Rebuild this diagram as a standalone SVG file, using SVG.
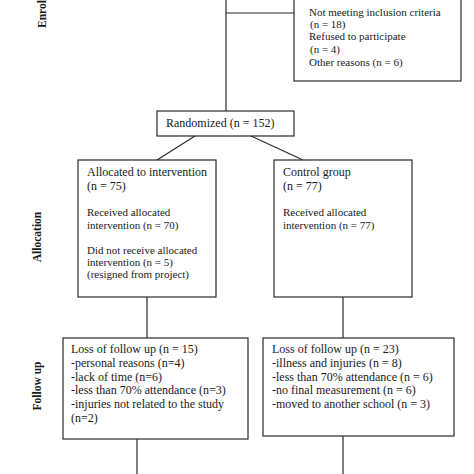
<svg xmlns="http://www.w3.org/2000/svg" width="474" height="474" viewBox="0 0 474 474">
<style>
.box{fill:#fff;stroke:#2a2a2a;stroke-width:1.2}
.ln{stroke:#2a2a2a;stroke-width:1.2;fill:none}
text{font-family:"Liberation Serif","Times New Roman",serif;fill:#1a1a1a}
.t12{font-size:12px}
.t11{font-size:11px}
.lab{font-size:11.5px;font-weight:bold}
</style>
<rect width="474" height="474" fill="#fff"/>
<g id="connectors">
<line class="ln" x1="226" y1="-2" x2="226" y2="111"/>
<line class="ln" x1="226" y1="13" x2="294" y2="13"/>
<line class="ln" x1="195" y1="136" x2="157" y2="160"/>
<line class="ln" x1="251" y1="136" x2="303" y2="160"/>
<line class="ln" x1="147" y1="297" x2="147" y2="338"/>
<line class="ln" x1="343" y1="297" x2="343" y2="338"/>
<line class="ln" x1="137" y1="439" x2="137" y2="476"/>
<line class="ln" x1="343" y1="436" x2="343" y2="476"/>
</g>
<g id="label-enrolment"><text class="lab" x="46" y="28" transform="rotate(-90 46 28)">Enrolment</text></g>
<g id="label-allocation"><text class="lab" x="41" y="237" text-anchor="middle" transform="rotate(-90 41 237)">Allocation</text></g>
<g id="label-followup"><text class="lab" x="41" y="386" text-anchor="middle" transform="rotate(-90 41 386)">Follow up</text></g>
<g id="excluded">
<rect class="box" x="294" y="-10" width="167" height="91"/>
<text class="t11" x="309" y="16">Not meeting inclusion criteria</text>
<text class="t11" x="310" y="28">(n = 18)</text>
<text class="t11" x="309" y="40">Refused to participate</text>
<text class="t11" x="310" y="53">(n = 4)</text>
<text class="t11" x="309" y="66">Other reasons (n = 6)</text>
</g>
<g id="randomized">
<rect class="box" x="157" y="111" width="137" height="25"/>
<text class="t12" x="166" y="127">Randomized (n = 152)</text>
</g>
<g id="intervention">
<rect class="box" x="78" y="160" width="138" height="137"/>
<text class="t12" x="87" y="176">Allocated to intervention</text>
<text class="t12" x="87" y="190">(n = 75)</text>
<text class="t11" x="87" y="216">Received allocated</text>
<text class="t11" x="87" y="229">intervention (n = 70)</text>
<text class="t11" x="87" y="254">Did not receive allocated</text>
<text class="t11" x="87" y="266">intervention (n = 5)</text>
<text class="t11" x="87" y="278">(resigned from project)</text>
</g>
<g id="control">
<rect class="box" x="274" y="160" width="138" height="137"/>
<text class="t12" x="283" y="176">Control group</text>
<text class="t12" x="283" y="190">(n = 77)</text>
<text class="t11" x="283" y="216">Received allocated</text>
<text class="t11" x="283" y="229">intervention (n = 77)</text>
</g>
<g id="followup-intervention">
<rect class="box" x="63" y="338" width="185" height="101"/>
<text class="t12" x="71" y="353">Loss of follow up (n = 15)</text>
<text class="t12" x="71" y="367">-personal reasons (n=4)</text>
<text class="t12" x="71" y="381">-lack of time (n=6)</text>
<text class="t12" x="71" y="394">-less than 70% attendance (n=3)</text>
<text class="t12" x="71" y="408">-injuries not related to the study</text>
<text class="t12" x="71" y="422">(n=2)</text>
</g>
<g id="followup-control">
<rect class="box" x="263" y="338" width="191" height="98"/>
<text class="t12" x="272" y="353">Loss of follow up (n = 23)</text>
<text class="t12" x="272" y="367">-illness and injuries (n = 8)</text>
<text class="t12" x="272" y="381">-less than 70% attendance (n = 6)</text>
<text class="t12" x="272" y="394">-no final measurement (n = 6)</text>
<text class="t12" x="272" y="408">-moved to another school (n = 3)</text>
</g>
</svg>
